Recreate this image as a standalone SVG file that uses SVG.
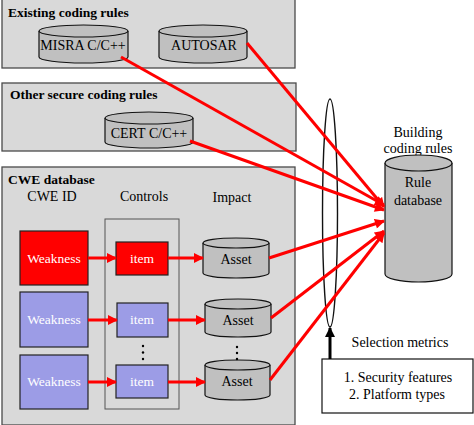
<svg xmlns="http://www.w3.org/2000/svg" width="474" height="425" viewBox="0 0 474 425">
<defs>
<style>
.panel{fill:#d9d9d9;stroke:#4a4a4a;stroke-width:1.3}
.cyl{fill:#c0c0c0;stroke:#111;stroke-width:1.2}
text{font-family:'Liberation Serif','Times New Roman',Times,'DejaVu Serif',serif}
.title{font-weight:bold;font-size:13.5px;fill:#000}
.t{font-size:14px;fill:#000}
.tw{font-size:13.5px;fill:#fff}
.red{fill:#ff0000;stroke:#222;stroke-width:1.2}
.blue{fill:#9c9ce6;stroke:#222;stroke-width:1.2}
.rl{stroke:#ff0000;stroke-width:3;fill:none}
</style>
<marker id="ah" viewBox="0 0 10 10" refX="9" refY="5" markerWidth="11" markerHeight="10" markerUnits="userSpaceOnUse" orient="auto">
<path d="M0,0 L10,5 L0,10 Z" fill="#ff0000"/>
</marker>
<marker id="bh" viewBox="0 0 10 10" refX="9" refY="5" markerWidth="11" markerHeight="10" markerUnits="userSpaceOnUse" orient="auto">
<path d="M0,0 L10,5 L0,10 Z" fill="#000"/>
</marker>
</defs>
<rect width="474" height="425" fill="#fff"/>

<g id="panel-existing">
<rect class="panel" x="2" y="-2" width="293" height="70"/>
<text class="title" x="8" y="17">Existing coding rules</text>
</g>
<g id="panel-other">
<rect class="panel" x="2" y="83" width="294" height="68"/>
<text class="title" x="10" y="99">Other secure coding rules</text>
</g>
<g id="panel-cwe">
<rect class="panel" x="2" y="167" width="293" height="258"/>
<text class="title" x="8" y="184">CWE database</text>
<text class="t" x="52" y="201" text-anchor="middle">CWE ID</text>
<text class="t" x="144" y="201" text-anchor="middle">Controls</text>
<text class="t" x="232" y="202" text-anchor="middle">Impact</text>
</g>

<g id="controls-box">
<rect x="105" y="219" width="74" height="190" fill="none" stroke="#555" stroke-width="1"/>
</g>

<g id="misra">
<path class="cyl" d="M39,31 V57 A44.5,6 0 0 0 128,57 V31"/>
<ellipse class="cyl" cx="83.5" cy="31" rx="44.5" ry="6"/>
<text class="t" x="83" y="50" text-anchor="middle">MISRA C/C++</text>
</g>
<g id="autosar">
<path class="cyl" d="M159,31 V57 A44,6 0 0 0 247,57 V31"/>
<ellipse class="cyl" cx="203" cy="31" rx="44" ry="6"/>
<text class="t" x="204" y="50" text-anchor="middle">AUTOSAR</text>
</g>
<g id="cert">
<path class="cyl" d="M105,118 V142 A44,6 0 0 0 193,142 V118"/>
<ellipse class="cyl" cx="149" cy="118" rx="44" ry="6"/>
<text class="t" x="149" y="138" text-anchor="middle">CERT C/C++</text>
</g>

<g id="weakness1">
<rect class="red" x="20" y="231" width="68" height="54"/>
<text class="tw" x="54" y="263" text-anchor="middle">Weakness</text>
</g>
<g id="weakness2">
<rect class="blue" x="20" y="292" width="68" height="55"/>
<text class="tw" x="54" y="324" text-anchor="middle">Weakness</text>
</g>
<g id="weakness3">
<rect class="blue" x="20" y="355" width="68" height="54"/>
<text class="tw" x="54" y="386" text-anchor="middle">Weakness</text>
</g>

<g id="item1">
<rect class="red" x="116" y="242" width="52" height="33"/>
<text class="tw" x="142" y="263" text-anchor="middle">item</text>
</g>
<g id="item2">
<rect class="blue" x="117" y="303" width="51" height="34"/>
<text class="tw" x="142" y="324" text-anchor="middle">item</text>
</g>
<g id="item3">
<rect class="blue" x="116" y="365" width="52" height="33"/>
<text class="tw" x="142" y="386" text-anchor="middle">item</text>
</g>
<g id="dots-items" fill="#000">
<circle cx="143" cy="346" r="1.2"/><circle cx="143" cy="352.5" r="1.2"/><circle cx="143" cy="359" r="1.2"/>
</g>

<g id="asset1">
<path class="cyl" d="M203,243 V273 A33,5 0 0 0 269,273 V243"/>
<ellipse class="cyl" cx="236" cy="243" rx="33" ry="5"/>
<text class="t" x="236" y="264" text-anchor="middle">Asset</text>
</g>
<g id="asset2">
<path class="cyl" d="M205,304 V332 A33,5 0 0 0 271,332 V304"/>
<ellipse class="cyl" cx="238" cy="304" rx="33" ry="5"/>
<text class="t" x="238" y="325" text-anchor="middle">Asset</text>
</g>
<g id="asset3">
<path class="cyl" d="M205,365 V395 A32.5,5 0 0 0 270,395 V365"/>
<ellipse class="cyl" cx="237.5" cy="365" rx="32.5" ry="5"/>
<text class="t" x="237" y="386" text-anchor="middle">Asset</text>
</g>
<g id="dots-assets" fill="#000">
<circle cx="237" cy="347" r="1.2"/><circle cx="237" cy="353" r="1.2"/><circle cx="237" cy="359" r="1.2"/>
</g>

<g id="rule-database">
<text class="t" x="418" y="137" text-anchor="middle">Building</text>
<text class="t" x="418" y="153" text-anchor="middle">coding rules</text>
<path class="cyl" d="M385,163 V274 A33.5,8 0 0 0 452,274 V163"/>
<ellipse class="cyl" cx="418.5" cy="163" rx="33.5" ry="8"/>
<text class="t" x="418" y="187" text-anchor="middle">Rule</text>
<text class="t" x="418" y="205" text-anchor="middle">database</text>
</g>

<g id="selection-metrics">
<text class="t" x="400" y="347" text-anchor="middle">Selection metrics</text>
<rect x="322" y="359" width="151" height="54" fill="#fff" stroke="#111" stroke-width="1.2"/>
<text class="t" x="398" y="382" text-anchor="middle">1. Security features</text>
<text class="t" x="397" y="399" text-anchor="middle">2. Platform types</text>
</g>

<g id="selection-loop">
<ellipse cx="330" cy="213" rx="7.5" ry="114" fill="none" stroke="#111" stroke-width="1.4"/>
</g>

<g id="connectors">
<line class="rl" x1="88" y1="258" x2="116" y2="258" marker-end="url(#ah)"/>
<line class="rl" x1="168" y1="258" x2="203" y2="258" marker-end="url(#ah)"/>
<line class="rl" x1="88" y1="320" x2="117" y2="320" marker-end="url(#ah)"/>
<line class="rl" x1="168" y1="320" x2="205" y2="320" marker-end="url(#ah)"/>
<line class="rl" x1="88" y1="382" x2="116" y2="382" marker-end="url(#ah)"/>
<line class="rl" x1="168" y1="382" x2="205" y2="382" marker-end="url(#ah)"/>
<line class="rl" x1="121" y1="57" x2="384" y2="205" marker-end="url(#ah)"/>
<line class="rl" x1="247" y1="43" x2="384" y2="207" marker-end="url(#ah)"/>
<line class="rl" x1="190" y1="141" x2="384" y2="210" marker-end="url(#ah)"/>
<line class="rl" x1="269" y1="258" x2="384" y2="221" marker-end="url(#ah)"/>
<line class="rl" x1="271" y1="318" x2="384" y2="231" marker-end="url(#ah)"/>
<line class="rl" x1="270" y1="380" x2="384" y2="233" marker-end="url(#ah)"/>
<line x1="330" y1="359" x2="330" y2="328" stroke="#000" stroke-width="3" marker-end="url(#bh)"/>
</g>
</svg>
